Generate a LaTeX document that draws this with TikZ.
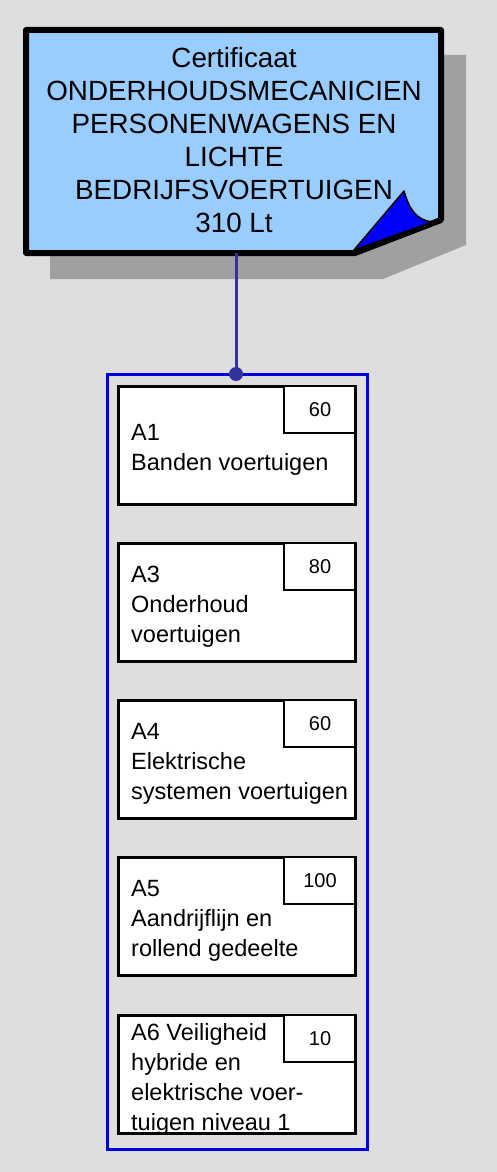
\documentclass[tikz,border=0pt]{standalone}
\usepackage{fontspec}
\setmainfont{Liberation Sans}
\definecolor{bgc}{RGB}{222,222,222}
\definecolor{shad}{RGB}{160,160,160}
\definecolor{hdrfill}{RGB}{153,204,255}
\definecolor{foldc}{RGB}{0,0,255}
\definecolor{conn}{RGB}{51,51,153}
\definecolor{contc}{RGB}{0,0,230}
\tikzset{
  modbox/.style={draw=black, line width=3pt, fill=white},
  numbox/.style={draw=black, line width=2.5pt, fill=white},
  modtext/.style={anchor=west, align=left, font=\fontsize{23.5}{30}\selectfont, inner sep=0pt},
  numtext/.style={font=\fontsize{20}{22}\selectfont, inner sep=0pt},
}
\begin{document}
\begin{tikzpicture}[x=1pt,y=-1pt]
\useasboundingbox[fill=bgc] (0,0) rectangle (497,1172);
% shadow
\fill[shad] (50,55) -- (466,55) -- (466,245) -- (383,279) -- (50,279) -- cycle;
% header box
\draw[line width=6pt, fill=hdrfill, line join=round] (26,30) -- (441,30) -- (441,220) -- (355,253) -- (26,253) -- cycle;
\node[align=center, font=\fontsize{27.8}{33}\selectfont, inner sep=0pt] (hdr) at (234,140)
 {Certificaat\\ONDERHOUDSMECANICIEN\\PERSONENWAGENS EN\\LICHTE\\BEDRIJFSVOERTUIGEN\\310 Lt};
% fold
\draw[fill=foldc, line width=1.5pt, line join=round] (354,250) -- (404,191) .. controls (410,212) and (418,220) .. (432,222) -- cycle;
% container
\coordinate (top) at (236,253);
\coordinate (dot) at (236,374);
\draw[contc, line width=3pt] (107,374) rectangle (367,1149);
\draw[conn, line width=3pt] (top) -- (dot);
\fill[conn] (dot) circle (7);
% modules
\foreach \y/\n/\t [count=\i] in {386/60/{A1\\Banden voertuigen},
  543/80/{A3\\Onderhoud\\voertuigen},
  700/60/{A4\\Elektrische\\systemen voertuigen},
  857/100/{A5\\Aandrijflijn en\\rollend gedeelte},
  1015/10/{A6 Veiligheid\\hybride en\\elektrische voer-\\tuigen niveau 1}} {
  \draw[modbox] (118,\y) rectangle (355,\y+118);
  \node[modtext] (m\i) at (131,\y+64) {\t};
  \draw[numbox] (284,\y) rectangle (355,\y+47);
  \node[numtext] (n\i) at (320,\y+24) {\n};
}
\end{tikzpicture}
\end{document}
